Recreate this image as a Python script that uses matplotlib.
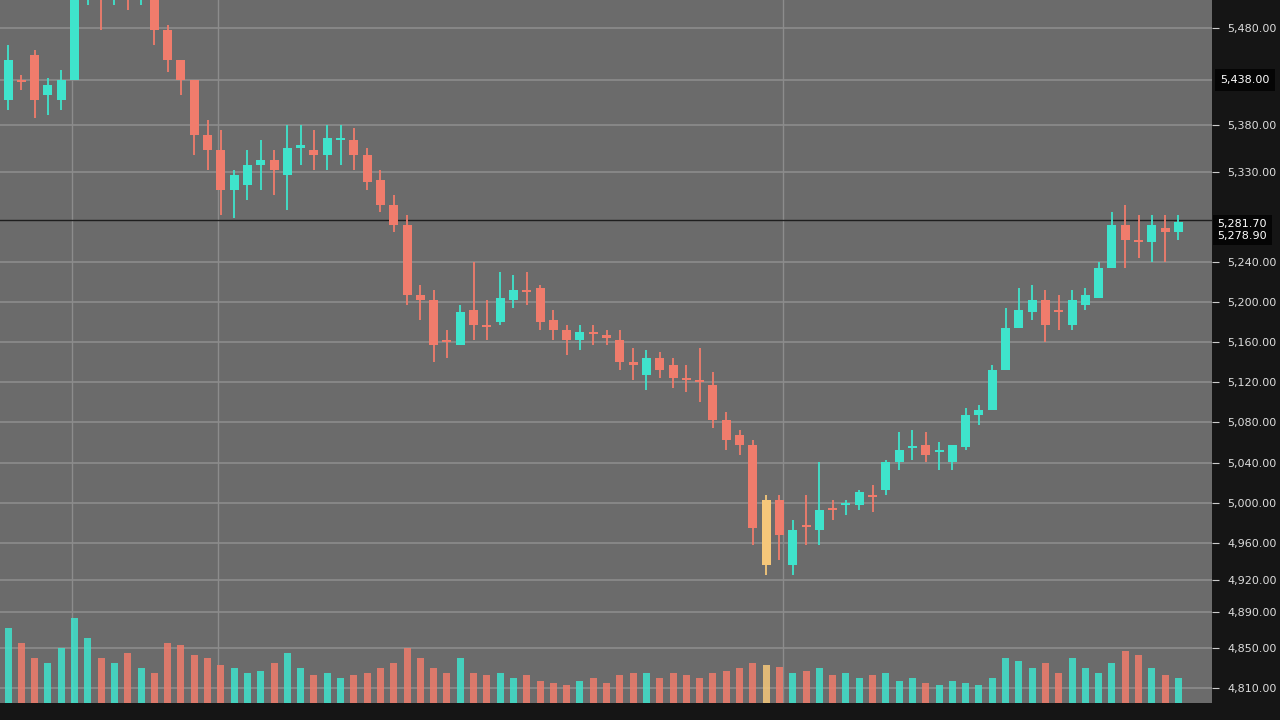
import matplotlib.pyplot as plt
import numpy as np

# candle levels (pixel-like units, larger = lower price)
opens = [100, 80, 55, 95, 100, 80, 0, -5, 0, -5, 0, 0, 30, 60, 80, 135, 150, 190, 185, 165,
         160, 175, 148, 150, 155, 140, 140, 155, 180, 205, 225, 295, 300, 340, 345, 310,
         325, 322, 300, 290, 288, 320, 330, 340, 332, 335, 340, 362, 375, 358, 365, 378,
         380, 385, 420, 435, 445, 500, 500, 565, 525, 530, 508, 505, 505, 495, 490, 462,
         448, 445, 452, 462, 447, 415, 410, 370, 328, 312, 300, 310, 325, 305, 298, 268,
         225, 240, 242, 228, 232]
closes = [60, 82, 100, 85, 80, 0, -5, 0, -5, 0, 0, 30, 60, 80, 135, 150, 190, 175, 165, 160,
          170, 148, 145, 155, 138, 140, 155, 182, 205, 225, 295, 300, 345, 342, 312, 325,
          327, 298, 290, 292, 322, 330, 340, 332, 334, 338, 362, 365, 358, 370, 378, 380,
          382, 420, 440, 445, 528, 565, 535, 530, 527, 510, 510, 503, 492, 497, 462, 450,
          446, 455, 450, 445, 415, 410, 370, 328, 310, 300, 325, 312, 300, 295, 268, 225,
          240, 242, 225, 232, 222]
highs = [45, 75, 50, 78, 70, -5, -10, -5, -10, -5, -5, 20, 25, 70, 110, 120, 130, 170, 150, 140,
         150, 125, 125, 130, 125, 125, 128, 148, 170, 195, 215, 285, 290, 330, 305, 262,
         300, 272, 275, 272, 285, 310, 325, 325, 325, 330, 330, 348, 350, 352, 358, 365,
         348, 372, 412, 430, 440, 495, 495, 520, 495, 462, 500, 500, 490, 485, 460, 432,
         430, 432, 442, 445, 408, 405, 365, 308, 288, 285, 290, 295, 290, 288, 262, 212,
         205, 215, 215, 215, 215]
lows = [110, 90, 118, 115, 110, 15, 5, 30, 5, 10, 5, 45, 72, 95, 155, 170, 215, 218, 200, 190,
        195, 210, 165, 170, 170, 165, 170, 190, 212, 232, 305, 320, 362, 358, 345, 340,
        340, 325, 308, 305, 330, 340, 355, 350, 345, 345, 370, 380, 390, 378, 388, 392,
        402, 428, 450, 455, 545, 575, 560, 575, 545, 545, 520, 515, 510, 512, 495, 470,
        460, 462, 470, 470, 450, 425, 385, 345, 325, 320, 342, 330, 330, 310, 285, 268,
        268, 258, 262, 262, 240]
volumes = [75, 60, 45, 40, 55, 85, 65, 45, 40, 50, 35, 30, 60, 58, 48, 45, 38, 35, 30, 32,
           40, 50, 35, 28, 30, 25, 28, 30, 35, 40, 55, 45, 35, 30, 45, 30, 28, 30, 25, 28,
           22, 20, 18, 22, 25, 20, 28, 30, 30, 25, 30, 28, 25, 30, 32, 35, 40, 38, 36, 30,
           32, 35, 28, 30, 25, 28, 30, 22, 25, 20, 18, 22, 20, 18, 25, 45, 42, 35, 40, 30,
           45, 35, 30, 40, 52, 48, 35, 28, 25]
tick_px = [28, 125, 172, 262, 302, 342, 382, 422, 463, 503, 543, 580, 612, 648, 688]
tick_labels = ["5,480.00", "5,380.00", "5,330.00", "5,240.00", "5,200.00",
               "5,160.00", "5,120.00", "5,080.00", "5,040.00", "5,000.00", "4,960.00",
               "4,920.00", "4,890.00", "4,850.00", "4,810.00"]
grid_px = [80] + tick_px

BASE = 5500
o = BASE - np.array(opens)
c = BASE - np.array(closes)
h = BASE - np.array(highs)
l = BASE - np.array(lows)
x = 8 + 13.3 * np.arange(len(opens))

GREEN = '#3fe3cc'
RED = '#f07c6c'
BG = '#6b6b6b'

fig = plt.figure(figsize=(12.8, 7.2), dpi=100, facecolor='#151515')
ax = fig.add_axes([0, 17 / 720, 1212 / 1280, 703 / 720])
ax.set_facecolor(BG)
ax.set_xlim(0, 1212)
ax.set_ylim(BASE - 703, BASE)

for t in grid_px:
    ax.axhline(BASE - t, color='#8c8c8c', lw=1.2, zorder=0)
for vx in [72, 218, 783]:
    ax.axvline(vx, color='#8c8c8c', lw=1, zorder=0)
ax.axhline(BASE - 220, color='#1e1e1e', lw=1, zorder=1)

cols = [GREEN if cc >= oo else RED for oo, cc in zip(o, c)]
cols[57] = '#f5c77a'
ax.vlines(x, l, h, colors=cols, lw=1.3, zorder=2)
body = np.maximum(np.abs(c - o), 2)
ax.bar(x, body, bottom=np.minimum(o, c), width=9, color=cols, zorder=3)

for side in ax.spines.values():
    side.set_visible(False)
ax.set_xticks([])
ax.yaxis.tick_right()
ax.set_yticks([BASE - t for t in tick_px])
ax.set_yticklabels(tick_labels, color='#dddddd', fontsize=8)
ax.tick_params(axis='y', colors='#cccccc', length=5, pad=6, labelcolor='#dddddd')

ax.annotate("5,438.00", xy=(1, BASE - 80), xycoords=('axes fraction', 'data'), xytext=(6, 0),
            textcoords='offset points', va='center', fontsize=8, color='white',
            bbox=dict(boxstyle='square,pad=0.5', fc='#050505', ec='none'))
ax.annotate("5,281.70\n5,278.90", xy=(1, BASE - 230), xycoords=('axes fraction', 'data'),
            xytext=(4, 0), textcoords='offset points', va='center', fontsize=8, color='white',
            bbox=dict(boxstyle='square,pad=0.4', fc='#050505', ec='none'))

vax = fig.add_axes([0, 17 / 720, 1212 / 1280, 100 / 720])
vax.patch.set_alpha(0)
vax.set_xlim(0, 1212)
vax.set_ylim(0, 100)
vax.bar(x, volumes, width=7, color=cols, alpha=0.85)
vax.axis('off')

fig.savefig('out.png', dpi=100, facecolor=fig.get_facecolor())
